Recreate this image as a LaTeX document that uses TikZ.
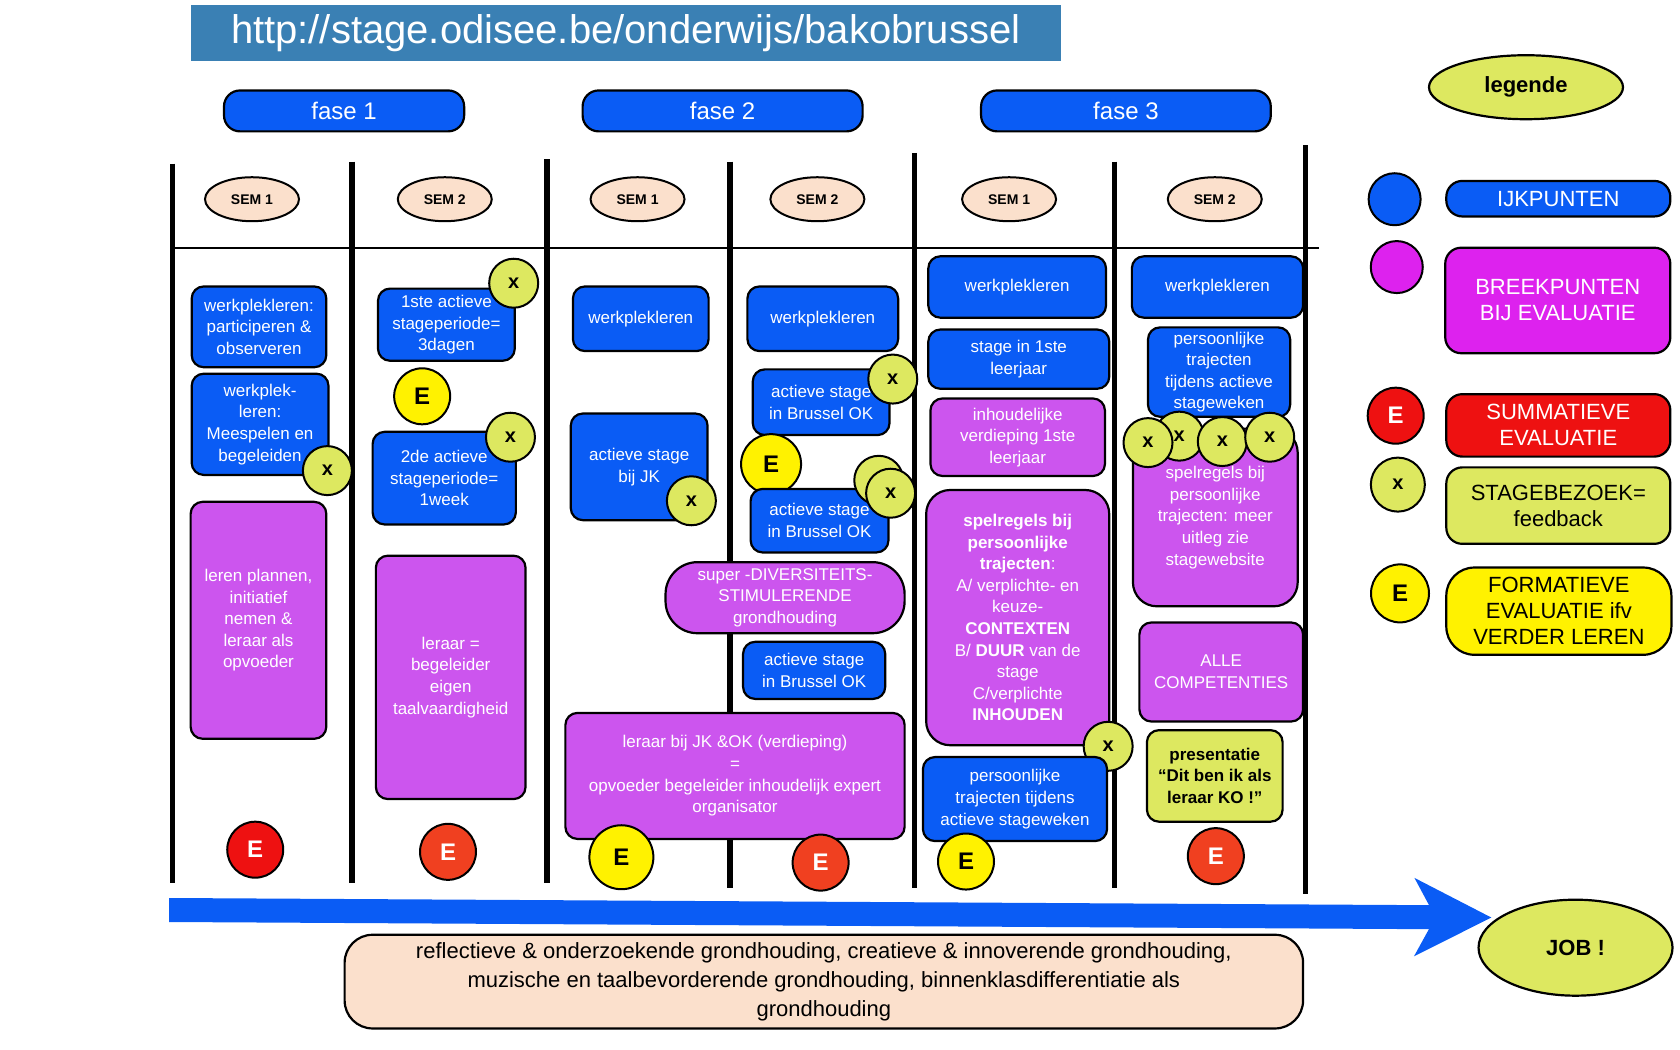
\documentclass[tikz,border=0pt]{standalone}
\usepackage{fontspec}
\setmainfont{Liberation Sans}
\usetikzlibrary{fit,arrows.meta,shapes.geometric}
\definecolor{ijk}{HTML}{0A5CF5}
\definecolor{paars}{HTML}{CC55EE}
\definecolor{magen}{HTML}{DD22EE}
\definecolor{geelgroen}{HTML}{DDE860}
\definecolor{zalm}{HTML}{FBE0CC}
\definecolor{rood}{HTML}{EE1111}
\definecolor{oranje}{HTML}{F04020}
\definecolor{titel}{HTML}{3A80B4}
% box from corner to corner, text centred on it
\newcommand\bx[5][]{\node[#1, fit={#3 #4}] (#2) {}; \node[#1, draw=none, fill=none] at (#2.center) {#5};}
\begin{document}
\begin{tikzpicture}[x=0.5385pt, y=-0.5385pt,
    blk/.style={draw, line width=1.1pt, rounded corners=6pt, inner sep=0pt, align=center,
                font=\fontsize{8.5}{10.8}\selectfont, text=white},
    blauw/.style={blk, fill=ijk},
    paarsbox/.style={blk, fill=paars},
    fase/.style={blk, fill=ijk, rounded corners=8pt, font=\fontsize{12}{14}\selectfont},
    sem/.style={ellipse, draw, line width=1pt, fill=zalm, minimum width=47pt, minimum height=22pt,
                inner sep=0pt, font=\bfseries\fontsize{7}{8}\selectfont},
    xm/.style={circle, draw, line width=1pt, fill=geelgroen, minimum size=24.5pt, inner sep=0pt,
               font=\bfseries\fontsize{10}{12}\selectfont},
    eval/.style={circle, draw, line width=1pt, minimum size=28pt, inner sep=0pt,
                 font=\bfseries\fontsize{12}{14}\selectfont},
    ev/.style={eval, fill=rood, text=white},
    eo/.style={eval, fill=oranje, text=white},
    eg/.style={eval, fill=yellow},
    lijn/.style={line width=2.7pt},
    leg/.style={blk, rounded corners=8pt, font=\fontsize{11}{13}\selectfont}]
\useasboundingbox (0,0) rectangle (1560,975);

% titel en fasen
\bx[fill=titel, text=white, inner sep=0pt, font=\fontsize{20}{22}\selectfont]{titel}{(177,5)}{(985,57)}{http://stage.odisee.be/onderwijs/bakobrussel}
\bx[fase]{fase1}{(208,84)}{(431,122)}{fase 1}
\bx[fase]{fase2}{(541,84)}{(801,122)}{fase 2}
\bx[fase]{fase3}{(911,84)}{(1180,122)}{fase 3}

% kolommen
\foreach \x/\a/\b in {160/152/820, 327/150/820, 508/148/820, 678/150/825, 849/142/825, 1035/150/825, 1212/135/830}
    \draw[lijn] (\x,\a) -- (\x,\b);
\draw[line width=1pt] (160,230) -- (1225,230);
\foreach \x/\s [count=\i] in {234/1, 413/2, 592/1, 759/2, 937/1, 1128/2}
    \node[sem] (sem\i) at (\x,185) {SEM \s};

% kolom 1
\bx[blauw]{k1a}{(178,266)}{(303,341)}{werkplekleren:\\participeren \&\\observeren}
\bx[blauw]{k1b}{(178,347)}{(305,441)}{werkplek-\\leren:\\Meespelen en\\begeleiden}
\node[xm] (x1) at (304,437) {x};
\bx[paarsbox]{k1c}{(177,466)}{(303,686)}{leren plannen,\\initiatief\\nemen \&\\leraar als\\opvoeder}
\node[ev] (e1) at (237,789) {E};

% kolom 2
\bx[blauw]{k2a}{(351,268)}{(478,335)}{1ste actieve\\stageperiode=\\3dagen}
\node[xm] (x2) at (477,263) {x};
\node[eg] (e2a) at (392,368) {E};
\bx[blauw]{k2b}{(346,401)}{(479,487)}{2de actieve\\stageperiode=\\1week}
\node[xm] (x3) at (474,406) {x};
\bx[paarsbox]{k2c}{(349,516)}{(488,742)}{leraar =\\begeleider\\eigen\\taalvaardigheid}
\node[eo] (e2) at (416,791) {E};

% kolom 3
\bx[blauw]{k3a}{(532,266)}{(658,326)}{werkplekleren}
\bx[blauw]{k3b}{(530,384)}{(657,483)}{actieve stage\\bij JK}
\node[xm] (x4) at (642,465) {x};
\bx[paarsbox, rounded corners=16pt]{k3c}{(618,522)}{(840,588)}{super -DIVERSITEITS-\\STIMULERENDE\\grondhouding}
\bx[paarsbox]{k3d}{(525,662)}{(840,779)}{leraar bij JK \&OK (verdieping)\\=\\opvoeder begeleider inhoudelijk expert\\organisator}
\node[eg, minimum size=32pt] (e3) at (577,796) {E};

% kolom 4
\bx[blauw]{k4a}{(694,266)}{(834,326)}{werkplekleren}
\bx[blauw]{k4b}{(699,343)}{(826,404)}{actieve stage\\in Brussel OK}
\node[xm] (x5) at (829,352) {x};
\node[eg, minimum size=30pt] (e4a) at (716,431) {E};
\bx[blauw]{k4c}{(697,454)}{(825,513)}{actieve stage\\in Brussel OK}
\node[xm] (x6) at (816,446) {};
\node[xm] (x7) at (827,458) {x};
\bx[blauw]{k4d}{(690,596)}{(822,649)}{actieve stage\\in Brussel OK}
\node[eo] (e4) at (762,801) {E};

% kolom 5
\bx[blauw]{k5a}{(862,238)}{(1027,295)}{werkplekleren}
\bx[blauw]{k5b}{(862,306)}{(1030,361)}{stage in 1ste\\leerjaar}
\bx[paarsbox]{k5c}{(864,370)}{(1026,442)}{inhoudelijke\\verdieping 1ste\\leerjaar}
\bx[paarsbox, rounded corners=12pt]{k5d}{(860,455)}{(1030,692)}{\textbf{spelregels bij}\\\textbf{persoonlijke}\\\textbf{trajecten}:\\A/ verplichte- en\\keuze-\\\textbf{CONTEXTEN}\\B/ \textbf{DUUR} van de\\stage\\C/verplichte\\\textbf{INHOUDEN}}
\node[xm] (x8) at (1029,693) {x};
\bx[blauw]{k5e}{(857,703)}{(1028,781)}{persoonlijke\\trajecten tijdens\\actieve stageweken}
\node[eg] (e5) at (897,800) {E};

% kolom 6
\bx[blauw]{k6a}{(1051,238)}{(1210,295)}{werkplekleren}
\bx[blauw]{k6b}{(1066,304)}{(1198,387)}{persoonlijke\\trajecten\\tijdens actieve\\stageweken}
\bx[paarsbox, rounded corners=12pt]{k6c}{(1052,398)}{(1205,563)}{spelregels bij\\persoonlijke\\trajecten: meer\\uitleg zie\\stagewebsite}
\foreach \x/\y [count=\i] in {1095/405, 1066/411, 1135/410, 1179/406}
    \node[xm] (x6\i) at (\x,\y) {x};
\bx[paarsbox]{k6d}{(1058,578)}{(1210,670)}{ALLE\\COMPETENTIES}
\bx[blk, fill=geelgroen, text=black, font=\bfseries\fontsize{8.5}{10.8}\selectfont]{k6e}{(1065,678)}{(1191,763)}{presentatie\\“Dit ben ik als\\leraar KO !”}
\node[eo] (e6) at (1129,795) {E};

% pijl naar job
\node[ellipse, draw, line width=1.1pt, fill=geelgroen, minimum width=97pt, minimum height=48pt,
      font=\bfseries\fontsize{11}{13}\selectfont] (job) at (1463,880) {JOB !};
\coordinate (start) at (157,845);
\coordinate (eind) at (1385,852);
\draw[ijk, line width=12pt, -{Stealth[length=38pt, width=38pt, inset=10pt]}] (start) -- (eind);
\bx[blk, fill=zalm, text=black, rounded corners=14pt, font=\fontsize{11}{14.5}\selectfont]{houding}{(320,868)}{(1210,955)}{reflectieve \& onderzoekende grondhouding, creatieve \& innoverende grondhouding,\\muzische en taalbevorderende grondhouding, binnenklasdifferentiatie als\\grondhouding}

% legende
\node[ellipse, draw, line width=1.1pt, fill=geelgroen, minimum width=97pt, minimum height=32pt,
      font=\bfseries\fontsize{11}{13}\selectfont] (legende) at (1417,81) {legende};
\node[circle, draw, line width=1pt, fill=ijk, minimum size=26pt] (l1) at (1295,185) {};
\node[circle, draw, line width=1pt, fill=magen, minimum size=26pt] (l2) at (1297,248) {};
\node[ev] (l3) at (1296,386) {E};
\node[xm, minimum size=27pt] (l4) at (1298,450) {x};
\node[eg, minimum size=29pt] (l5) at (1300,551) {E};
\bx[leg, fill=ijk]{t1}{(1343,168)}{(1551,201)}{IJKPUNTEN}
\bx[leg, fill=magen]{t2}{(1342,230)}{(1551,328)}{BREEKPUNTEN\\BIJ EVALUATIE}
\bx[leg, fill=rood]{t3}{(1343,366)}{(1551,424)}{SUMMATIEVE\\EVALUATIE}
\bx[leg, fill=geelgroen, text=black]{t4}{(1343,434)}{(1551,505)}{STAGEBEZOEK=\\feedback}
\bx[leg, fill=yellow, text=black, rounded corners=14pt]{t5}{(1343,527)}{(1552,608)}{FORMATIEVE\\EVALUATIE ifv\\VERDER LEREN}
\end{tikzpicture}
\end{document}
